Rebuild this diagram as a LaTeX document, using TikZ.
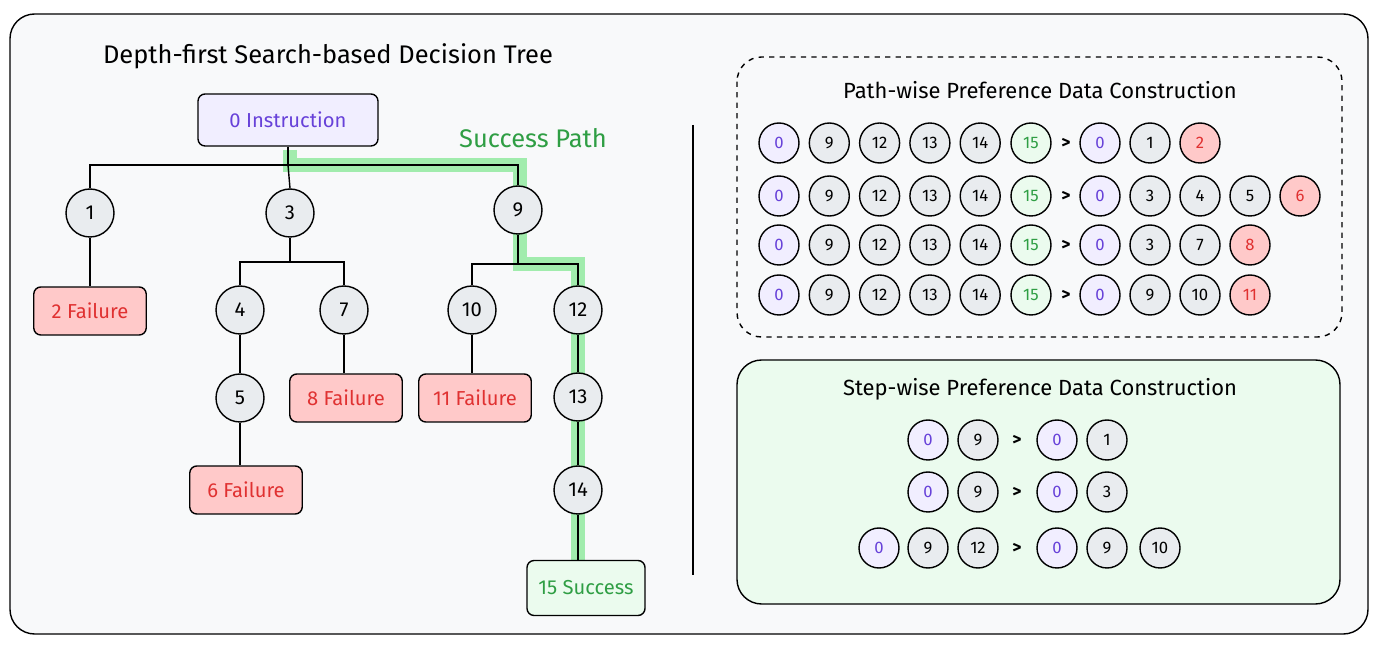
\documentclass[tikz,border=0pt]{standalone}
\usepackage{fontspec}
\setmainfont{Fira Sans}
\definecolor{bgray}{HTML}{F8F9FA}
\definecolor{cgray}{HTML}{E9ECEF}
\definecolor{lav}{HTML}{F1EEFF}
\definecolor{purp}{HTML}{6741D9}
\definecolor{redf}{HTML}{FFC9C9}
\definecolor{redt}{HTML}{E03131}
\definecolor{grnf}{HTML}{EBFBEE}
\definecolor{grnt}{HTML}{2F9E44}
\definecolor{hlgrn}{HTML}{8CE99A}
\tikzset{
  tnode/.style={circle, draw, thick, fill=cgray, minimum size=0.96cm, inner sep=0pt, font=\fontsize{11.5}{12}\selectfont},
  tbox/.style={rectangle, rounded corners=4pt, draw, thick, minimum height=0.96cm, font=\fontsize{11.5}{12}\selectfont},
  fail/.style={tbox, fill=redf, text=redt, minimum width=2.25cm},
  pnode/.style={circle, draw, thick, fill=cgray, minimum size=0.8cm, inner sep=0pt, font=\fontsize{9.5}{10}\selectfont},
  pzero/.style={pnode, fill=lav, text=purp},
  pfail/.style={pnode, fill=redf, text=redt},
  pwin/.style={pnode, fill=grnf, text=grnt},
  edge/.style={thick},
}
\begin{document}
\begin{tikzpicture}[x=0.02cm, y=-0.02cm]
\useasboundingbox (0,0) rectangle (1380,648);
\draw[thick, fill=bgray, rounded corners=14pt] (10,14) rectangle (1368,634);
\node[font=\fontsize{14.5}{15}\selectfont] (title) at (328,56) {Depth-first Search-based Decision Tree};

% success path
\draw[hlgrn, line width=8pt, opacity=0.8] (290,150) -- (290,165) -- (520,165) -- (520,264) -- (578,264) -- (578,565);
\node[text=grnt, font=\fontsize{14.5}{15}\selectfont] (sp) at (533,138) {Success Path};

% tree
\node[tbox, fill=lav, text=purp, minimum width=3.6cm, minimum height=1.04cm] (n0) at (288,120) {0 Instruction};
\node[tnode] (n1) at (90,213) {1};
\node[tnode] (n3) at (290,213) {3};
\node[tnode] (n9) at (518,210) {9};
\node[fail] (n2) at (90,311) {2 Failure};
\node[tnode] (n4) at (240,310) {4};
\node[tnode] (n7) at (344,310) {7};
\node[tnode] (n5) at (240,398) {5};
\node[fail] (n6) at (246,490) {6 Failure};
\node[fail] (n8) at (346,398) {8 Failure};
\node[tnode] (n10) at (472,310) {10};
\node[tnode] (n12) at (578,310) {12};
\node[fail] (n11) at (475,398) {11 Failure};
\node[tnode] (n13) at (578,397) {13};
\node[tnode] (n14) at (578,490) {14};
\node[tbox, fill=grnf, text=grnt, minimum width=2.36cm, minimum height=1.1cm] (n15) at (586,588) {15 Success};

\draw[edge] (n0.south) -- (288,165) coordinate (b0);
\draw[edge] (n1.north) |- (b0) -| (n9.north);
\draw[edge] (b0) -- (n3.north);
\draw[edge] (n1) -- (n2);
\draw[edge] (n3.south) -- (290,262) coordinate (b3);
\draw[edge] (n4.north) |- (b3) -| (n7.north);
\draw[edge] (n4) -- (n5);
\draw[edge] (n5) -- (n6.north -| n5);
\draw[edge] (n7) -- (n8.north -| n7);
\draw[edge] (n9.south) -- (518,264) coordinate (b9);
\draw[edge] (n10.north) |- (b9) -| (n12.north);
\draw[edge] (n10) -- (n11.north -| n10);
\draw[edge] (n12) -- (n13);
\draw[edge] (n13) -- (n14);
\draw[edge] (n14) -- (n15.north -| n14);

% divider
\draw[thick] (693,125) coordinate (d1) -- (693,575) coordinate (d2);

% path-wise
\draw[thick, dashed, rounded corners=14pt] (737,57) rectangle (1342,337);
\node[font=\fontsize{12.5}{13}\selectfont] (pt) at (1040,90) {Path-wise Preference Data Construction};
\foreach \y [count=\r] in {143, 196, 245, 295}{
  \node[pzero] (p\r-0) at (779,\y) {0};
  \foreach \v [count=\i] in {9,12,13,14}
    \node[pnode] (p\r-\i) at ({779+50.3*\i},\y) {\v};
  \node[pwin] (p\r-5) at (1031,\y) {15};
  \node[font=\bfseries] (p\r-gt) at (1066,\y) {>};
  \node[pzero] (q\r-0) at (1100,\y) {0};
}
\node[pnode] (q1-1) at (1150,143) {1};
\node[pfail] (q1-2) at (1200,143) {2};
\node[pnode] (q2-1) at (1150,196) {3};
\node[pnode] (q2-2) at (1200,196) {4};
\node[pnode] (q2-3) at (1250,196) {5};
\node[pfail] (q2-4) at (1300,196) {6};
\node[pnode] (q3-1) at (1150,245) {3};
\node[pnode] (q3-2) at (1200,245) {7};
\node[pfail] (q3-3) at (1250,245) {8};
\node[pnode] (q4-1) at (1150,295) {9};
\node[pnode] (q4-2) at (1200,295) {10};
\node[pfail] (q4-3) at (1250,295) {11};

% step-wise
\draw[thick, fill=grnf, rounded corners=14pt] (737,360) rectangle (1340,604);
\node[font=\fontsize{12.5}{13}\selectfont] (st) at (1040,389) {Step-wise Preference Data Construction};
\foreach \y/\v [count=\r] in {440/1, 492/3}{
  \node[pzero] (s\r-0) at (928,\y) {0};
  \node[pnode] (s\r-1) at (978,\y) {9};
  \node[font=\bfseries] (s\r-gt) at (1017,\y) {>};
  \node[pzero] (t\r-0) at (1057,\y) {0};
  \node[pnode] (t\r-1) at (1107,\y) {\v};
}
\node[pzero] (s3-0) at (879,548) {0};
\node[pnode] (s3-1) at (928,548) {9};
\node[pnode] (s3-2) at (978,548) {12};
\node[font=\bfseries] (s3-gt) at (1017,548) {>};
\node[pzero] (t3-0) at (1057,548) {0};
\node[pnode] (t3-1) at (1107,548) {9};
\node[pnode] (t3-2) at (1160,548) {10};
\end{tikzpicture}
\end{document}
